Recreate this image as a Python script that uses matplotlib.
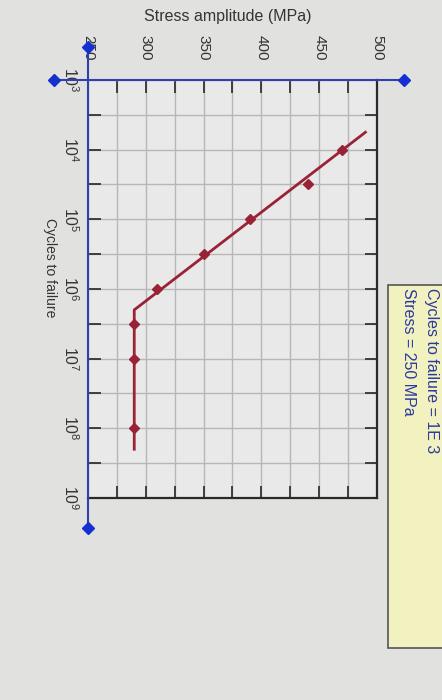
import numpy as np
import matplotlib
matplotlib.use("Agg")
import matplotlib.pyplot as plt
from matplotlib.patches import Rectangle

plt.rcParams['font.family'] = ['Liberation Sans', 'DejaVu Sans']
plt.rcParams['mathtext.fontset'] = 'custom'
plt.rcParams['mathtext.rm'] = 'Liberation Sans'
plt.rcParams['mathtext.it'] = 'Liberation Sans'

# data (chart is shown turned on its side)
cycles_pts = [1e4, 10**4.5, 1e5, 10**5.5, 1e6, 10**6.5, 1e7, 1e8]
stress_pts = [470, 440, 390, 350, 310, 290, 290, 290]

fit_cycles = [10**3.75, 10**6.3, 10**8.3]
fit_stress = [490, 290, 290]

stress_ticks = [250, 300, 350, 400, 450, 500]
stress_minor = [275, 325, 375, 425, 475]
cycle_exps = [3, 4, 5, 6, 7, 8, 9]
cycle_ticks = [10.0**e for e in cycle_exps]
cycle_minor = [10**(e + 0.5) for e in cycle_exps[:-1]]
cycle_labels = ['$\\mathregular{10^{%d}}$' % e for e in cycle_exps]

# ends of the blue axis lines (with diamond caps)
stress_axis_span = [221, 523]
cycle_axis_span = [10**2.53, 10**9.43]

W, H = 442, 700
fig = plt.figure(figsize=(W / 100, H / 100), dpi=100)
fig.patch.set_facecolor('#e1e1df')

ax = fig.add_axes([88 / W, 1 - 498 / H, (377 - 88) / W, (498 - 80) / H])
ax.set_facecolor('#e9e9e9')
ax.set_xlim(250, 500)
ax.set_yscale('log')
ax.set_ylim(1e9, 1e3)

ax.set_xticks(stress_ticks)
ax.set_xticks(stress_minor, minor=True)
ax.set_xticklabels([str(s) for s in stress_ticks], rotation=270, fontsize=11)
ax.set_yticks(cycle_ticks)
ax.set_yticks(cycle_minor, minor=True)
ax.set_yticklabels(cycle_labels, rotation=270, fontsize=11.5, va='center')
ax.yaxis.set_minor_formatter(plt.NullFormatter())

ax.xaxis.set_ticks_position('both')
ax.yaxis.set_ticks_position('both')
ax.tick_params(axis='x', which='both', direction='in', length=9, width=1.3,
               color='#333333', labeltop=True, labelbottom=False, pad=14,
               labelcolor='#333333')
ax.tick_params(axis='y', which='both', direction='in', length=9, width=1.3,
               color='#333333', labelleft=True, labelright=False, pad=6,
               labelcolor='#333333')

ax.grid(True, which='both', color='#b7b7ba', lw=1)
ax.set_axisbelow(True)

for side in ['left', 'top']:
    ax.spines[side].set_visible(False)
for side in ['right', 'bottom']:
    ax.spines[side].set_color('#2a2a2a')
    ax.spines[side].set_linewidth(1.6)

# blue axes with diamond ends
blue = '#2f3fb0'
ax.plot(stress_axis_span, [1e3, 1e3], color=blue, lw=1.5, clip_on=False, zorder=5)
ax.plot([250, 250], cycle_axis_span, color=blue, lw=1.5, clip_on=False, zorder=5)
ax.plot(stress_axis_span, [1e3, 1e3], 'D', color='#1530d0', ms=6,
        clip_on=False, zorder=6, ls='none')
ax.plot([250, 250], cycle_axis_span, 'D', color='#1530d0', ms=6,
        clip_on=False, zorder=6, ls='none')

# S-N curve and measured points
red = '#9a2236'
ax.plot(fit_stress, fit_cycles, color=red, lw=2, zorder=4)
ax.plot(stress_pts, cycles_pts, 'D', color=red, ms=5.5, zorder=5)

fig.text(228 / W, 1 - 16 / H, 'Stress amplitude (MPa)', ha='center', va='center',
         fontsize=11.5, color='#333333')
fig.text(50 / W, 1 - 268 / H, 'Cycles to failure', ha='center', va='center',
         rotation=270, fontsize=10, color='#333333')

# yellow info panel
fig.patches.append(Rectangle((388 / W, 1 - 648 / H), (W - 388) / W + 0.01, (648 - 285) / H,
                             transform=fig.transFigure, facecolor='#f2f1c0',
                             edgecolor='#555555', lw=1.2, zorder=0))
fig.text(432 / W, 1 - 288 / H, 'Cycles to failure = 1E 3', ha='center', va='top',
         rotation=270, fontsize=11.5, color='#2b3a9e')
fig.text(409 / W, 1 - 288 / H, 'Stress = 250 MPa', ha='center', va='top',
         rotation=270, fontsize=11.5, color='#2b3a9e')

fig.savefig('out.png', dpi=100, facecolor=fig.get_facecolor())
